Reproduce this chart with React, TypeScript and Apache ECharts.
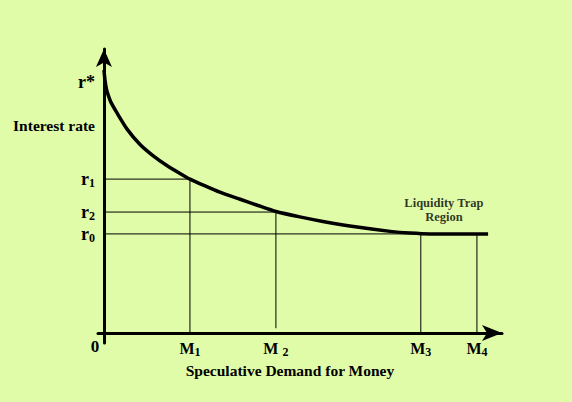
import React, { useEffect, useRef } from 'react';
import * as echarts from 'echarts';

// demand curve (x: money, y: interest rate)
const curveX = [0, 0.25, 0.63, 1.13, 1.76, 3.27, 5.8, 9.0, 12.3, 15.8, 19.1, 21.6, 25.4, 29.1, 34.2, 38.7, 43.2, 49.2, 55.0, 63.6, 71.9, 76.9, 81.9, 96.5];
const curveY = [9.26, 8.91, 8.59, 8.35, 8.12, 7.75, 7.18, 6.65, 6.25, 5.9, 5.62, 5.42, 5.18, 4.96, 4.71, 4.49, 4.28, 4.09, 3.93, 3.73, 3.58, 3.52, 3.49, 3.49];

// interest rate levels and money levels
const rNames = ['r*', 'r1', 'r2', 'r0'];
const rValues = [8.84, 5.42, 4.26, 3.49];
const mNames = ['0', 'M1', 'M2', 'M3', 'M4'];
const mValues = [0, 21.6, 43.2, 79.6, 93.7];
const yTitleValue = 7.32;
const trapLabelPos = [85.4, 4.33];

const FONT = 'Liberation Serif, DejaVu Serif, serif';
const BG = '#e0fca8';

export default function App() {
  const chartRef = useRef<HTMLDivElement>(null);

  useEffect(() => {
    if (!chartRef.current) return;
    document.body.style.margin = '0';
    document.body.style.background = BG;

    const chart = echarts.init(chartRef.current, null, { renderer: 'svg' });

    const r1 = rValues[1], r2 = rValues[2], r0 = rValues[3];
    const [, m1, m2, m3, m4] = mValues;

    // thin guide lines from the axes to the curve
    const guides: number[][][] = [
      [[0, r1], [m1, r1]],
      [[m1, r1], [m1, 0]],
      [[0, r2], [m2, r2]],
      [[m2, r2], [m2, 0.17]],
      [[0, r0], [curveX[curveX.length - 1], r0]],
      [[m3, r0], [m3, 0]],
      [[m4, r0], [m4, 0]],
    ];

    const yLabel = (v: number) => {
      if (Math.abs(v - yTitleValue) < 1e-6) return '{t|Interest rate}';
      const i = rValues.findIndex(r => Math.abs(r - v) < 1e-6);
      if (i === 0) return '{r|r*}';
      if (i > 0) return '{r|r}{s|' + rNames[i].slice(1) + '}';
      return '';
    };

    const xLabel = (v: number) => {
      const i = mValues.findIndex(m => Math.abs(m - v) < 1e-6);
      if (i === 0) return '{z|' + mNames[0] + '}';
      if (i === 1) return '{m|M}{k|1}';
      if (i === 2) return '{m|M }{s|2}';
      if (i === 3) return '{m|M}{s|3}';
      if (i === 4) return '{m|M}{k|4}';
      return '';
    };

    const bold = { fontFamily: FONT, fontWeight: 'bold' as const };

    const option = {
      animation: false,
      backgroundColor: BG,
      textStyle: { fontFamily: FONT },
      grid: { left: 98, top: 49, width: 404, height: 294 },
      xAxis: {
        type: 'value',
        min: -1.5,
        max: 100,
        splitLine: { show: false },
        axisTick: { show: false },
        axisLine: {
          onZero: true,
          symbol: ['none', 'arrow'],
          symbolSize: [12, 20],
          lineStyle: { color: '#000', width: 3 },
        },
        axisLabel: {
          customValues: mValues,
          formatter: xLabel,
          margin: -5,
          color: '#000',
          fontFamily: FONT,
          rich: {
            z: { ...bold, fontSize: 17, padding: [0, 18, 0, 0], lineHeight: 20, verticalAlign: 'top' },
            m: { ...bold, fontSize: 16, lineHeight: 20 },
            k: { ...bold, fontSize: 12, lineHeight: 17, verticalAlign: 'bottom' },
            s: { ...bold, fontSize: 12, lineHeight: 12, verticalAlign: 'bottom' },
          },
        },
        name: 'Speculative Demand for Money',
        nameLocation: 'middle',
        nameGap: 17,
        nameTextStyle: {
          ...bold,
          fontSize: 15.5,
          color: '#000',
          padding: [0, 20, 0, 0],
        },
      },
      yAxis: {
        type: 'value',
        min: -0.35,
        max: 10,
        splitLine: { show: false },
        axisTick: { show: false },
        axisLine: {
          onZero: true,
          symbol: ['none', 'arrow'],
          symbolSize: [12, 18],
          lineStyle: { color: '#000', width: 3 },
        },
        axisLabel: {
          customValues: [rValues[0], yTitleValue, r1, r2, r0],
          formatter: yLabel,
          margin: 3,
          color: '#000',
          fontFamily: FONT,
          rich: {
            t: { ...bold, fontSize: 15.5, lineHeight: 18 },
            r: { ...bold, fontSize: 18, lineHeight: 20 },
            s: { ...bold, fontSize: 12, lineHeight: 12, verticalAlign: 'bottom' },
          },
        },
      },
      series: [
        ...guides.map(g => ({
          type: 'line',
          data: g,
          symbol: 'none',
          silent: true,
          lineStyle: { color: '#000', width: 1 },
        })),
        {
          type: 'line',
          data: curveX.map((x, i) => [x, curveY[i]]),
          symbol: 'none',
          smooth: 0.2,
          lineStyle: { color: '#000', width: 3.5 },
          z: 3,
        },
        {
          type: 'scatter',
          data: [trapLabelPos],
          symbolSize: 0,
          silent: true,
          label: {
            show: true,
            position: 'inside',
            formatter: 'Liquidity Trap\nRegion',
            ...bold,
            fontSize: 12.5,
            lineHeight: 14,
            color: '#000',
            align: 'center',
          },
        },
      ],
    };

    chart.setOption(option);

    return () => {
      chart.dispose();
    };
  }, []);

  return <div ref={chartRef} style={{ width: 572, height: 402 }} />;
}
